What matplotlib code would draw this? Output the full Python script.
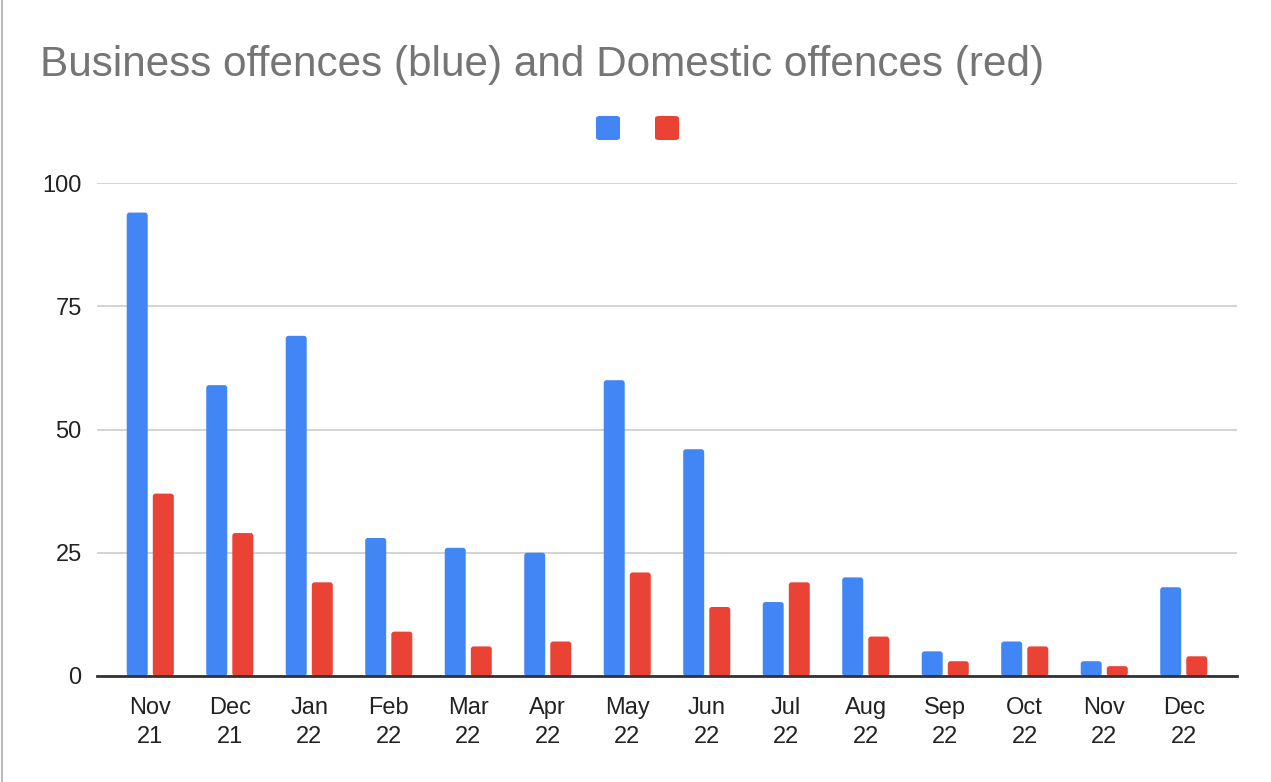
import matplotlib
matplotlib.use("Agg")
import matplotlib.pyplot as plt
import numpy as np
from matplotlib.patches import FancyBboxPatch
from matplotlib.lines import Line2D

months = ["Nov\n21", "Dec\n21", "Jan\n22", "Feb\n22", "Mar\n22", "Apr\n22", "May\n22",
          "Jun\n22", "Jul\n22", "Aug\n22", "Sep\n22", "Oct\n22", "Nov\n22", "Dec\n22"]
business = [94, 59, 69, 28, 26, 25, 60, 46, 15, 20, 5, 7, 3, 18]
domestic = [37, 29, 19, 9, 6, 7, 21, 14, 19, 8, 3, 6, 2, 4]
yticks = [0, 25, 50, 75, 100]

BLUE = "#4285F4"
RED = "#EA4335"

plt.rcParams['font.family'] = ['Liberation Sans', 'DejaVu Sans']

fig = plt.figure(figsize=(12.71, 7.82), dpi=100)
ax = fig.add_axes([97/1271, 1-676/782, (1237-97)/1271, (676-183)/782])

x = np.arange(len(months))
w = 0.264
off = 0.164
bars_b = ax.bar(x - off, business, width=w, color=BLUE, zorder=3)
bars_r = ax.bar(x + off, domestic, width=w, color=RED, zorder=3)

# rounded corners on bars
aspect = (1237-97)/(len(months) - 1 + 1.34) / ((676-183)/100)  # px per x-unit / px per y-unit
for cont in (bars_b, bars_r):
    for r in cont.patches:
        r.set_visible(False)
        fb = FancyBboxPatch((r.get_x(), r.get_y()), r.get_width(), r.get_height(),
                            boxstyle="round,pad=0,rounding_size=0.035",
                            mutation_aspect=aspect,
                            facecolor=r.get_facecolor(), edgecolor='none', zorder=3)
        ax.add_patch(fb)

ax.set_xlim(-0.67, len(months) - 1 + 0.67)
ax.set_ylim(0, 100)
ax.set_yticks(yticks)
ax.set_yticklabels([str(v) for v in yticks], fontsize=17, color="#222222")
ax.set_xticks(x)
ax.set_xticklabels(months, fontsize=17, color="#222222", linespacing=1.4)
ax.tick_params(axis='both', length=0)
ax.tick_params(axis='x', pad=15)
ax.tick_params(axis='y', pad=11)
for s in ['top', 'right', 'left']:
    ax.spines[s].set_visible(False)
ax.spines['bottom'].set_color("#333333")
ax.spines['bottom'].set_linewidth(2)
ax.spines['bottom'].set_zorder(4)
ax.grid(axis='y', color="#cccccc", linewidth=1.2, zorder=0)
ax.set_axisbelow(True)

fig.text(40/1271, 1-65/782, "Business offences (blue) and Domestic offences (red)",
         fontsize=30.4, color="#757575", ha='left', va='center')

# legend squares
for cx, col in [(608, BLUE), (667, RED)]:
    p = FancyBboxPatch(((cx-12)/1271, 1-140/782), 24/1271, 24/782,
                       boxstyle="round,pad=0,rounding_size=0.003",
                       transform=fig.transFigure, facecolor=col, edgecolor='none')
    fig.patches.append(p)

fig.lines.append(Line2D([1.5/1271, 1.5/1271], [0, 1], transform=fig.transFigure,
                        color="#bbbbbb", linewidth=1.5))

fig.savefig("out.png", dpi=100)
